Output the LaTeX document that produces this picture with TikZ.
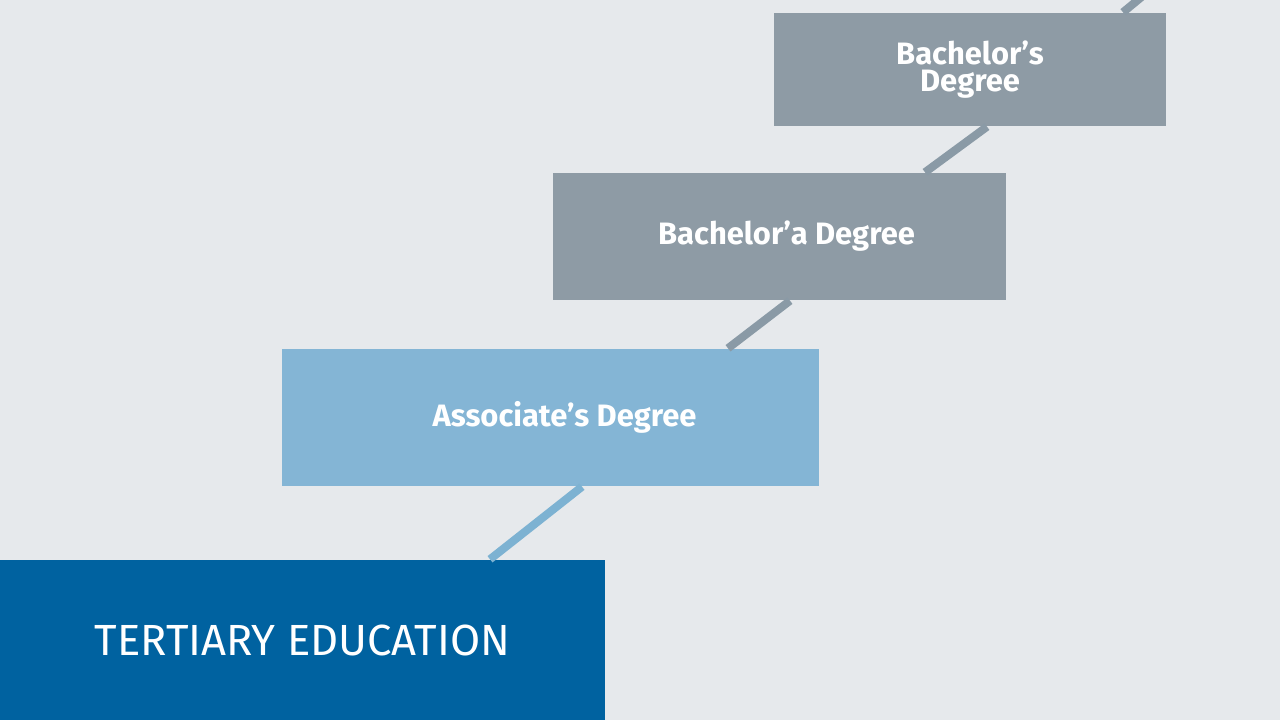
\documentclass[tikz,border=0pt]{standalone}
\usepackage{fontspec}
\setmainfont{Fira Sans}
\definecolor{bgcol}{HTML}{E6E9EC}
\definecolor{tertblue}{HTML}{0062A0}
\definecolor{assocblue}{HTML}{84B5D5}
\definecolor{degreegray}{HTML}{8E9BA5}
\definecolor{linkgray}{HTML}{8A9AA6}
\definecolor{linkblue}{HTML}{7DB2D2}
\tikzstyle{stage} = [rectangle, text=white, align=center, inner sep=0pt, font=\bfseries\fontsize{8.8}{10.5}\selectfont]
\tikzstyle{link} = [line width=2.3pt]

\begin{document}
\begin{tikzpicture}
  \fill [bgcol] (0,0) rectangle (12.8,7.2);
  \clip (0,0) rectangle (12.8,7.2);
  \node (tert) at (3.025,0.8) [stage, fill=tertblue, minimum width=6.05cm, minimum height=1.6cm, font=\fontsize{12.4}{14}\selectfont] {TERTIARY EDUCATION};
  \node (assoc) at (5.505,3.025) [stage, fill=assocblue, minimum width=5.37cm, minimum height=1.37cm] {\hspace*{0.28cm}Associate's Degree};
  \node (bachA) at (7.795,4.835) [stage, fill=degreegray, minimum width=4.53cm, minimum height=1.27cm] {\hspace*{0.14cm}Bachelor'a Degree};
  \node (bachB) at (9.70,6.505) [stage, fill=degreegray, minimum width=3.92cm, minimum height=1.13cm] {Bachelor's\\[-3pt]Degree};
  \coordinate (top) at (11.50,7.30);
  \draw [link, linkblue] ([xshift=1.875cm]tert.north) -- ([xshift=0.315cm]assoc.south);
  \draw [link, linkgray] ([xshift=1.775cm]assoc.north) -- ([xshift=0.105cm]bachA.south);
  \draw [link, linkgray] ([xshift=1.455cm]bachA.north) -- ([xshift=0.17cm]bachB.south);
  \draw [link, linkgray] ([xshift=1.53cm]bachB.north) -- (top);
\end{tikzpicture}
\end{document}
